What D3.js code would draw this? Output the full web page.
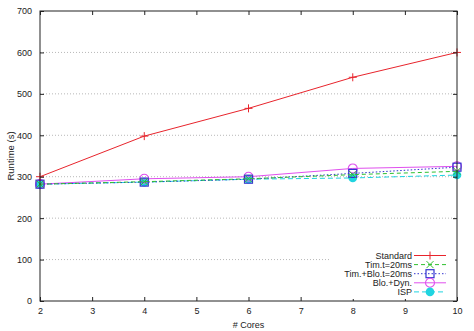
<!DOCTYPE html>
<html>
<head>
<meta charset="utf-8">
<script src="https://cdn.jsdelivr.net/npm/d3@7"></script>
<style>
  html, body { margin: 0; padding: 0; background: #fff; }
  svg { display: block; font-family: "Liberation Sans", Arial, Helvetica, sans-serif; }
</style>
</head>
<body>
<script>
// Runtime vs. number of cores for each scheduling strategy
const cores = [2, 4, 6, 8, 10];
const xTicks = [2, 3, 4, 5, 6, 7, 8, 9, 10];
const yTicks = [0, 100, 200, 300, 400, 500, 600, 700];

const seriesNames = ["Standard", "Tim.t=20ms", "Tim.+Blo.t=20ms", "Blo.+Dyn.", "ISP"];
const standard   = [300, 398, 465, 540, 600];
const timT20     = [282, 288, 295, 305, 313];
const timBloT20  = [282, 287, 294, 308, 323];
const bloDyn     = [282, 295, 300, 320, 325];
const isp        = [282, 287, 294, 297, 304];

const W = 474, H = 331;
const m = { left: 40, right: 17, top: 11, bottom: 30 };
const iw = W - m.left - m.right, ih = H - m.top - m.bottom;
const FONT = 9;

const svg = d3.select("body").append("svg").attr("width", W).attr("height", H);
const g = svg.append("g").attr("transform", `translate(${m.left},${m.top})`);

const x = d3.scaleLinear().domain([2, 10]).range([0, iw]);
const y = d3.scaleLinear().domain([0, 700]).range([ih, 0]);

// Dotted grid lines
g.append("g").selectAll("line").data(yTicks.filter(v => v > 0 && v < 700)).join("line")
  .attr("x1", 0).attr("x2", iw)
  .attr("y1", d => y(d)).attr("y2", d => y(d))
  .attr("stroke", "#b8b8b8").attr("stroke-width", 1).attr("stroke-dasharray", "1,2");

const styles = [
  { data: standard,  color: "#e8242c", dash: null,    marker: "plus" },
  { data: timT20,    color: "#30c030", dash: "4,3",   marker: "cross" },
  { data: timBloT20, color: "#3434d0", dash: "1.5,2", marker: "square" },
  { data: bloDyn,    color: "#e050ee", dash: null,    marker: "circle" },
  { data: isp,       color: "#20d4e0", dash: "5,3",   marker: "dot" }
];

function drawMarker(sel, type, color) {
  if (type === "plus") {
    sel.append("path").attr("d", "M-4,0H4M0,-4V4").attr("stroke", color).attr("stroke-width", 1).attr("fill", "none");
  } else if (type === "cross") {
    sel.append("path").attr("d", "M-3.5,-3.5L3.5,3.5M-3.5,3.5L3.5,-3.5").attr("stroke", color).attr("stroke-width", 1).attr("fill", "none");
  } else if (type === "square") {
    sel.append("rect").attr("x", -4).attr("y", -4).attr("width", 8).attr("height", 8)
      .attr("stroke", color).attr("stroke-width", 1.2).attr("fill", "none");
  } else if (type === "circle") {
    sel.append("circle").attr("r", 4.5).attr("stroke", color).attr("stroke-width", 1.1).attr("fill", "none");
  } else if (type === "dot") {
    sel.append("circle").attr("r", 4.3).attr("fill", color).attr("stroke", "none");
  }
}

const line = d3.line().x((d, i) => x(cores[i])).y(d => y(d));

// Draw lower series first so Standard sits on top
[4, 3, 2, 1, 0].forEach(k => {
  const s = styles[k];
  g.append("path").datum(s.data)
    .attr("d", line)
    .attr("fill", "none")
    .attr("stroke", s.color)
    .attr("stroke-width", 1)
    .attr("stroke-dasharray", s.dash);
  s.data.forEach((v, i) => {
    const mk = g.append("g").attr("transform", `translate(${x(cores[i])},${y(v)})`);
    drawMarker(mk, s.marker, s.color);
  });
});

// Legend
const legX = 412, legY0 = 255.5, legDy = 9.1;
svg.append("rect").attr("x", 329).attr("y", 248).attr("width", 126).attr("height", 51).attr("fill", "#fff");
styles.forEach((s, k) => {
  const yy = legY0 + k * legDy;
  svg.append("text").attr("x", legX).attr("y", yy + 3.2)
    .attr("text-anchor", "end").attr("font-size", FONT).attr("fill", "#222").text(seriesNames[k]);
  svg.append("line").attr("x1", legX + 2).attr("x2", legX + 34).attr("y1", yy).attr("y2", yy)
    .attr("stroke", s.color).attr("stroke-width", 1).attr("stroke-dasharray", s.dash);
  const mk = svg.append("g").attr("transform", `translate(${legX + 18},${yy})`);
  drawMarker(mk, s.marker, s.color);
});

// Axes: inward ticks on all four sides
const axStyle = sel => {
  sel.select(".domain").remove();
  sel.selectAll("line").attr("stroke", "#222");
  sel.selectAll("text").attr("font-size", FONT).attr("fill", "#222")
    .attr("font-family", "'Liberation Sans', Arial, Helvetica, sans-serif");
};
g.append("g").attr("transform", `translate(0,${ih})`)
  .call(d3.axisBottom(x).tickValues(xTicks).tickFormat(d3.format("d")).tickSizeInner(-4).tickSizeOuter(0).tickPadding(7))
  .call(axStyle);
g.append("g")
  .call(d3.axisLeft(y).tickValues(yTicks).tickFormat(d3.format("d")).tickSizeInner(-4).tickSizeOuter(0).tickPadding(8))
  .call(axStyle);
g.append("g")
  .call(d3.axisTop(x).tickValues(xTicks).tickSizeInner(-4).tickSizeOuter(0).tickFormat(""))
  .call(axStyle);
g.append("g").attr("transform", `translate(${iw},0)`)
  .call(d3.axisRight(y).tickValues(yTicks).tickSizeInner(-4).tickSizeOuter(0).tickFormat(""))
  .call(axStyle);

// Plot frame
g.append("rect").attr("width", iw).attr("height", ih).attr("fill", "none").attr("stroke", "#222").attr("stroke-width", 1);

// Axis titles
svg.append("text").attr("x", m.left + iw / 2).attr("y", 327.5).attr("text-anchor", "middle")
  .attr("font-size", FONT).attr("fill", "#222").text("# Cores");
svg.append("text").attr("transform", `translate(11,${m.top + ih / 2}) rotate(-90)`)
  .attr("text-anchor", "middle").attr("dy", "0.35em")
  .attr("font-size", 9.5).attr("fill", "#222").text("Runtime (s)");
</script>
</body>
</html>
